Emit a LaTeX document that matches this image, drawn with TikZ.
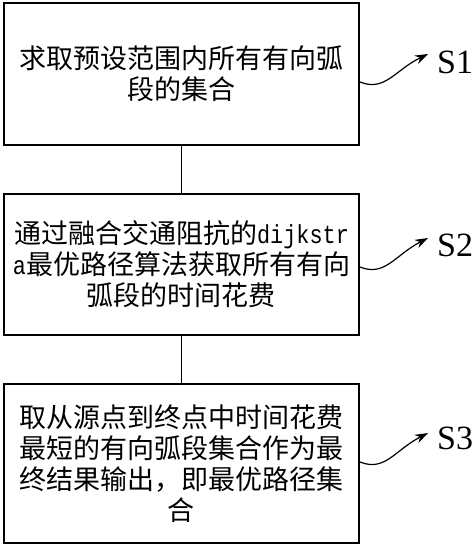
\documentclass[tikz,border=0pt]{standalone}
\usepackage{graphicx}
\usepackage{fontspec}
\newfontfamily\cjk{Noto Sans CJK SC}
\newfontfamily\lbl{Liberation Serif}
\newfontfamily\mono{Liberation Mono}
\newcommand{\latinpart}[1]{\scalebox{0.84}[1]{\mono\fontsize{26}{31}\selectfont #1}}
\usetikzlibrary{arrows.meta}
\begin{document}
\begin{tikzpicture}[x=1pt,y=-1pt,
  stepbox/.style={draw, line width=1.6pt, minimum width=355pt, inner sep=0pt, align=center,
    font=\cjk\fontsize{27}{31}\selectfont},
  link/.style={line width=1.6pt},
  squig/.style={line width=1.2pt, -{Stealth[length=13pt,width=9pt]}},
  steplabel/.style={anchor=west, inner sep=0pt, font=\lbl\fontsize{34}{34}\selectfont}]
\useasboundingbox (0,0) rectangle (474,547);
\node[stepbox, minimum height=142pt] (b1) at (181.5,74) {求取预设范围内所有有向弧\\段的集合};
\node[stepbox, minimum height=141pt] (b2) at (181.5,264.5) {通过融合交通阻抗的\latinpart{dijkstr}\\\latinpart{a}最优路径算法获取所有有向\\弧段的时间花费};
\node[stepbox, minimum height=159pt] (b3) at (181.5,463.5) {取从源点到终点中时间花费\\最短的有向弧段集合作为最\\终结果输出，即最优路径集\\合};
\draw[link] (b1.south) -- (b2.north);
\draw[link] (b2.south) -- (b3.north);
\coordinate (s1) at (360,82);
\coordinate (t1) at (428,54);
\coordinate (s2) at (360,267);
\coordinate (t2) at (428,238);
\coordinate (s3) at (360,462);
\coordinate (t3) at (428,433);
\draw[squig] (s1) .. controls (385,92) and (395,70) .. (t1);
\draw[squig] (s2) .. controls (385,277) and (395,255) .. (t2);
\draw[squig] (s3) .. controls (385,472) and (395,450) .. (t3);
\node[steplabel] (l1) at (437,62) {S1};
\node[steplabel] (l2) at (437,245) {S2};
\node[steplabel] (l3) at (437,438) {S3};
\end{tikzpicture}
\end{document}
